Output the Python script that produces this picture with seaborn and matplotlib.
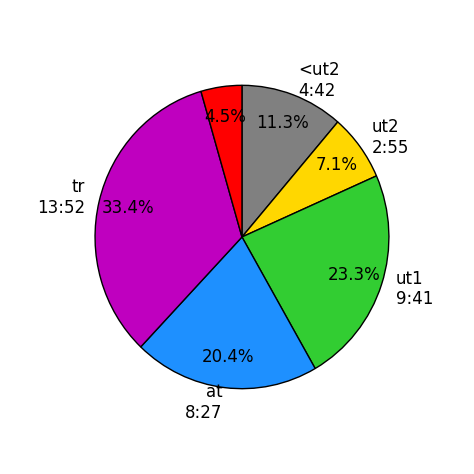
import matplotlib
matplotlib.use('Agg')
import matplotlib.pyplot as plt
import seaborn as sns

# Répartition du temps par zone
zones = ['<ut2', 'ut2', 'ut1', 'at', 'tr', '']
pourcentages = [11.3, 7.1, 23.3, 20.4, 33.4, 4.5]
durees = ['4:42', '2:55', '9:41', '8:27', '13:52', '']
couleurs = ['grey', 'gold', 'limegreen', 'dodgerblue', 'm', 'red']

sns.set_style('white')

labels = [f'{z}\n{d}' if z else '' for z, d in zip(zones, durees)]

fig, ax = plt.subplots(figsize=(4.74, 4.74), dpi=100)
fig.subplots_adjust(left=0.123, right=0.898, bottom=0.10, top=0.90)
ax.pie(pourcentages, labels=labels, colors=couleurs, autopct='%1.1f%%',
       startangle=90, counterclock=False, pctdistance=0.8,
       wedgeprops={'edgecolor': 'black', 'linewidth': 1},
       textprops={'fontsize': 12, 'color': 'black'})
ax.set_aspect('auto')
ax.set_xlim(-1.25, 1.25)
ax.set_ylim(-1.25, 1.25)
plt.savefig('out.png', dpi=100)
